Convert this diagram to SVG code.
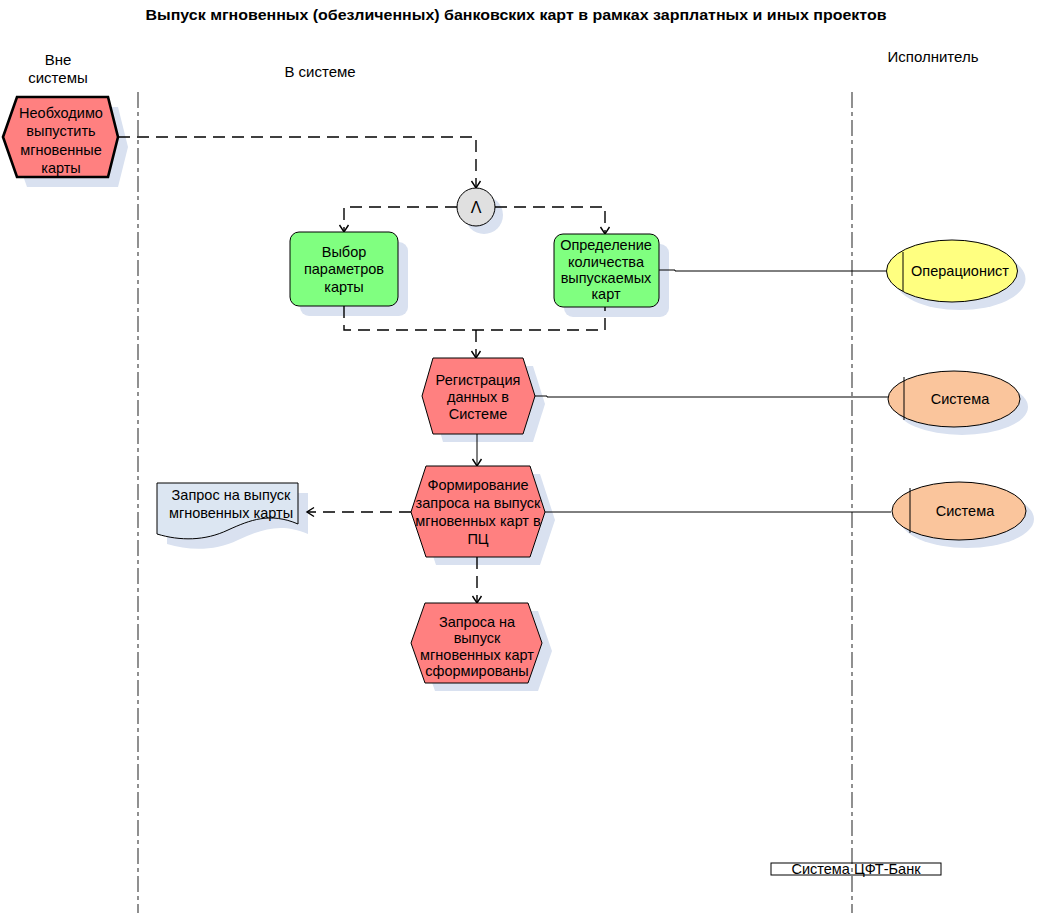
<svg xmlns="http://www.w3.org/2000/svg" width="1038" height="913" viewBox="0 0 1038 913">
<style>
text{font-family:"Liberation Sans",Arial,sans-serif;font-size:14.5px;fill:#000;text-anchor:middle}
.title{font-weight:bold;font-size:15.5px}
.lbl{font-size:15px}
.sh{fill:#d9e1f0;stroke:none}
.ev{fill:#ff8080;stroke:#000;stroke-width:1}
.fn{fill:#80ff80;stroke:#000;stroke-width:1}
.org{stroke:#000;stroke-width:1}
.lane{stroke:#555;stroke-width:1.3;stroke-dasharray:16 4 4 4;fill:none}
.dash{stroke:#000;stroke-width:1.4;stroke-dasharray:12 7;fill:none}
.solid{stroke:#000;stroke-width:1;fill:none}
</style>
<defs>
<marker id="arr" viewBox="-9 -6 11 12" refX="0" refY="0" markerWidth="11" markerHeight="12" markerUnits="userSpaceOnUse" orient="auto">
<path d="M-7,-4.5 L0,0 L-7,4.5" fill="none" stroke="#000" stroke-width="1.4" stroke-dasharray="none"/>
</marker>
</defs>
<rect width="1038" height="913" fill="#fff"/>
<text class="title" x="516" y="20" textLength="741" lengthAdjust="spacingAndGlyphs">Выпуск мгновенных (обезличенных) банковских карт в рамках зарплатных и иных проектов</text>
<text class="lbl" x="58" y="65">Вне</text>
<text class="lbl" x="58" y="83">системы</text>
<text class="lbl" x="320" y="77">В системе</text>
<text class="lbl" x="933" y="62">Исполнитель</text>
<g id="lanes">
<line class="lane" x1="138" y1="92" x2="138" y2="913"/>
<line class="lane" x1="852" y1="92" x2="852" y2="913"/>
</g>
<g id="shadows">
<polygon class="sh" points="13,147 27,107 118,107 128,147 118,187 27,187"/>
<circle class="sh" cx="484" cy="215" r="19"/>
<rect class="sh" x="300" y="242" width="108" height="74" rx="9"/>
<rect class="sh" x="564" y="244" width="105" height="73" rx="9"/>
<polygon class="sh" points="432,404 443,366 533,366 545,404 533,442 443,442"/>
<polygon class="sh" points="421,520 436,474 540,474 555,520 540,565 436,565"/>
<path class="sh" d="M167,493 H308 V534 C280,522 260,530 238,540 C215,551 190,551 167,544 Z"/>
<polygon class="sh" points="421,651 435,611 538,611 552,651 538,691 435,691"/>
<ellipse class="sh" cx="960" cy="279" rx="65.5" ry="31"/>
<ellipse class="sh" cx="962" cy="407" rx="66" ry="28"/>
<ellipse class="sh" cx="967" cy="519" rx="67" ry="29"/>
</g>
<g id="connectors">
<path class="dash" d="M118,137 H476 V188" marker-end="url(#arr)"/>
<path class="dash" d="M457,207 H344 V232" marker-end="url(#arr)"/>
<path class="dash" d="M495,207 H605 V234" marker-end="url(#arr)"/>
<path class="dash" d="M344,306 V330 H605 V307"/>
<path class="dash" d="M476,330 V358" marker-end="url(#arr)"/>
<path class="solid" d="M659,270 H675 V271 H886"/>
<path class="solid" d="M533,396 H547 V397 H888"/>
<path class="solid" d="M477,434 V466" marker-end="url(#arr)"/>
<path class="dash" d="M411,512 H307" marker-end="url(#arr)"/>
<path class="solid" d="M545,512 H891"/>
<path class="dash" d="M477,557 V603" marker-end="url(#arr)"/>
</g>
<g id="ev1">
<polygon points="3,137 17,97 108,97 118,137 108,177 17,177" fill="#ff8080" stroke="#000" stroke-width="2.6"/>
<text x="61" y="118">Необходимо</text>
<text x="61" y="136">выпустить</text>
<text x="61" y="155">мгновенные</text>
<text x="61" y="173">карты</text>
</g>
<g id="and1">
<circle cx="476" cy="207" r="19" fill="#e0e0e0" stroke="#000" stroke-width="1"/>
<text x="476" y="213" style="font-size:16px">Λ</text>
</g>
<g id="fn1">
<rect class="fn" x="290" y="232" width="108" height="74" rx="9"/>
<text x="344" y="257">Выбор</text>
<text x="344" y="274">параметров</text>
<text x="344" y="292">карты</text>
</g>
<g id="fn2">
<rect class="fn" x="554" y="234" width="105" height="73" rx="9"/>
<text x="606" y="250">Определение</text>
<text x="606" y="267">количества</text>
<text x="606" y="283">выпускаемых</text>
<text x="606" y="299">карт</text>
</g>
<g id="ev2">
<polygon class="ev" points="422,396 433,358 523,358 535,396 523,434 433,434"/>
<text x="478" y="385">Регистрация</text>
<text x="478" y="402">данных в</text>
<text x="478" y="419">Системе</text>
</g>
<g id="ev3">
<polygon class="ev" points="411,512 426,466 530,466 545,512 530,557 426,557"/>
<text x="478" y="490">Формирование</text>
<text x="478" y="508">запроса на выпуск</text>
<text x="478" y="526">мгновенных карт в</text>
<text x="478" y="544">ПЦ</text>
</g>
<g id="doc1">
<path d="M157,483 H298 V524 C270,512 250,520 228,530 C205,541 180,541 157,534 Z" fill="#dce6f2" stroke="#000" stroke-width="1"/>
<text x="231" y="500">Запрос на выпуск</text>
<text x="231" y="518">мгновенных карты</text>
</g>
<g id="ev4">
<polygon class="ev" points="411,643 425,603 528,603 542,643 528,683 425,683"/>
<text x="477" y="627">Запроса на</text>
<text x="477" y="643">выпуск</text>
<text x="477" y="660">мгновенных карт</text>
<text x="477" y="676">сформированы</text>
</g>
<g id="org1">
<ellipse class="org" cx="952" cy="271" rx="65.5" ry="31" fill="#ffff80"/>
<line class="org" x1="903" y1="252" x2="903" y2="291"/>
<text x="960" y="276">Операционист</text>
</g>
<g id="org2">
<ellipse class="org" cx="954" cy="399" rx="66" ry="28" fill="#fac59c"/>
<line class="org" x1="904" y1="377" x2="904" y2="420"/>
<text x="960" y="404">Система</text>
</g>
<g id="org3">
<ellipse class="org" cx="959" cy="511" rx="67" ry="29" fill="#fac59c"/>
<line class="org" x1="910" y1="488" x2="910" y2="533"/>
<text x="965" y="516">Система</text>
</g>
<g id="sys">
<rect x="771" y="863" width="170" height="12" fill="none" stroke="#000" stroke-width="1"/>
<text x="856" y="874">Система ЦФТ-Банк</text>
</g>
</svg>
